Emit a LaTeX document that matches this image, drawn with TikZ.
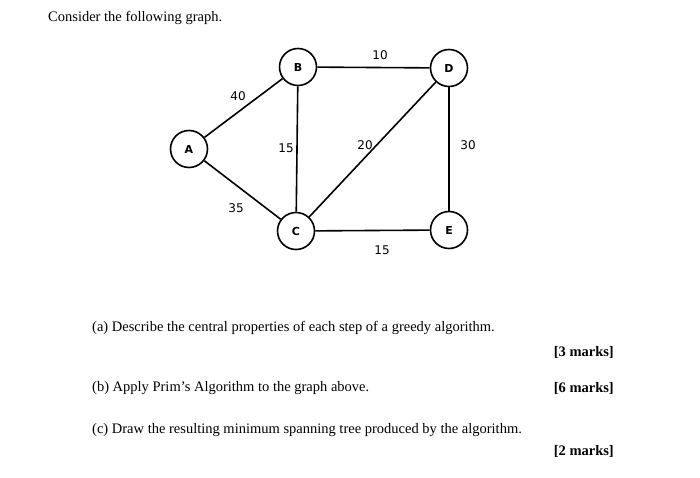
\documentclass[tikz,border=0pt]{standalone}
\usepackage{fontspec}
\setmainfont{Liberation Serif}
\newfontfamily\gsans{DejaVu Sans}
\begin{document}
\begin{tikzpicture}[x=1pt,y=-1pt,
 vtx/.style={circle,draw,line width=1.6pt,minimum size=37pt,inner sep=0pt,font=\gsans\bfseries\fontsize{11}{12}\selectfont},
 edge/.style={line width=1.6pt},
 wt/.style={font=\gsans\fontsize{12}{14}\selectfont,inner sep=0pt},
 txt/.style={anchor=west,inner sep=0pt,font=\fontsize{14.5}{17}\selectfont},
 mk/.style={anchor=east,inner sep=0pt,font=\bfseries\fontsize{14.5}{17}\selectfont}]
\useasboundingbox[fill=white] (0,0) rectangle (700,478);
\node[vtx] (A) at (189,149) {A};
\node[vtx] (B) at (298,67) {B};
\node[vtx] (D) at (449,68) {D};
\node[vtx] (C) at (296,231) {C};
\node[vtx] (E) at (449,230) {E};
\draw[edge] (A)--(B); \draw[edge] (A)--(C); \draw[edge] (B)--(D);
\draw[edge] (B)--(C); \draw[edge] (C)--(D); \draw[edge] (D)--(E); \draw[edge] (C)--(E);
\node[wt] (w1) at (380,55) {10};
\node[wt] (w2) at (238,96) {40};
\node[wt] (w3) at (286,148) {15};
\node[wt] (w4) at (365,145) {20};
\node[wt] (w5) at (468,145) {30};
\node[wt] (w6) at (236,208) {35};
\node[wt] (w7) at (382,250) {15};
\node[txt] (t0) at (48,18) {Consider the following graph.};
\node[txt] (ta) at (92,328) {(a) Describe the central properties of each step of a greedy algorithm.};
\node[mk] (ma) at (614,352) {[3 marks]};
\node[txt] (tb) at (92,388) {(b) Apply Prim’s Algorithm to the graph above.};
\node[mk] (mb) at (614,388) {[6 marks]};
\node[txt] (tc) at (92,430) {(c) Draw the resulting minimum spanning tree produced by the algorithm.};
\node[mk] (mc) at (614,451) {[2 marks]};
\end{tikzpicture}
\end{document}
